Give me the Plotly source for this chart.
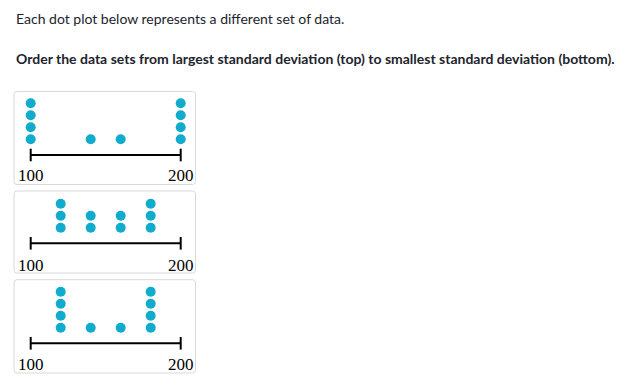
import plotly.graph_objects as go
from collections import Counter

# ---- data ----
set_a = [100, 100, 100, 100, 140, 160, 200, 200, 200, 200]
set_b = [120, 120, 120, 140, 140, 160, 160, 180, 180, 180]
set_c = [120, 120, 120, 120, 140, 160, 180, 180, 180, 180]
datasets = [set_a, set_b, set_c]
axis_min, axis_max = 100, 200
tick_labels = ["100", "200"]
title_line1 = "Each dot plot below represents a different set of data."
title_line2 = "Order the data sets from largest standard deviation (top) to smallest standard deviation (bottom)."

# ---- layout constants (pixels) ----
W, H = 627, 391
PX_PER_UNIT = 1.5
X100_PX = 30.7
STEP = 12.0
# per panel: (level-1 dot centre y, axis line y, label centre y, box top, box bottom)
panels = [
    (139.3, 155.0, 177.0, 91.5, 184.5),
    (227.7, 243.3, 267.0, 191.0, 273.0),
    (327.7, 343.3, 366.0, 279.7, 373.0),
]
BOX_L, BOX_R = 14.0, 195.5
DOT = "#11accd"
TXT = "#21242c"

x0 = axis_min - X100_PX / PX_PER_UNIT
x1 = x0 + W / PX_PER_UNIT

fig = go.Figure()

def px2lvl(b, p):
    return 1 + (b - p) / STEP

for i, (vals, (b, a, lab, bt, bb)) in enumerate(zip(datasets, panels)):
    yname = "y" if i == 0 else f"y{i+1}"
    seen = Counter()
    xs, ys = [], []
    for v in vals:
        seen[v] += 1
        xs.append(v)
        ys.append(seen[v])
    fig.add_trace(go.Scatter(x=xs, y=ys, mode="markers", yaxis=yname,
                             marker=dict(size=10, color=DOT, line=dict(width=0)),
                             showlegend=False, hoverinfo="skip"))
    ya = px2lvl(b, a)
    fig.add_trace(go.Scatter(x=[axis_min, axis_max], y=[ya, ya], mode="lines+markers",
                             yaxis=yname, line=dict(color="black", width=2),
                             marker=dict(symbol="line-ns", size=9,
                                         line=dict(color="black", width=2)),
                             showlegend=False, hoverinfo="skip"))
    yl = px2lvl(b, lab)
    fig.add_trace(go.Scatter(x=[axis_min, axis_max], y=[yl, yl], mode="text",
                             text=tick_labels, yaxis=yname,
                             textfont=dict(family="Liberation Serif", size=17, color="black"),
                             showlegend=False, hoverinfo="skip"))
    rng = [1 + (b - H) / STEP, 1 + b / STEP]
    key = "yaxis" if i == 0 else f"yaxis{i+1}"
    ax = dict(range=rng, visible=False, fixedrange=True, domain=[0, 1])
    if i > 0:
        ax["overlaying"] = "y"
    fig.layout[key] = ax

    # rounded box
    r = 3.0
    def X(p): return p / W
    def Y(p): return 1 - p / H
    path = (f"M {X(BOX_L + r)},{Y(bt)} L {X(BOX_R - r)},{Y(bt)} "
            f"Q {X(BOX_R)},{Y(bt)} {X(BOX_R)},{Y(bt + r)} "
            f"L {X(BOX_R)},{Y(bb - r)} Q {X(BOX_R)},{Y(bb)} {X(BOX_R - r)},{Y(bb)} "
            f"L {X(BOX_L + r)},{Y(bb)} Q {X(BOX_L)},{Y(bb)} {X(BOX_L)},{Y(bb - r)} "
            f"L {X(BOX_L)},{Y(bt + r)} Q {X(BOX_L)},{Y(bt)} {X(BOX_L + r)},{Y(bt)} Z")
    fig.add_shape(type="path", path=path, xref="paper", yref="paper",
                  line=dict(color="#d8d8d8", width=1), fillcolor="rgba(0,0,0,0)",
                  layer="below")

fig.add_annotation(x=14 / W, y=1 - 18 / H, xref="paper", yref="paper",
                   xanchor="left", yanchor="middle", showarrow=False,
                   text=title_line1, font=dict(family="Lato", size=14, color=TXT))
fig.add_annotation(x=14 / W, y=1 - 58.5 / H, xref="paper", yref="paper",
                   xanchor="left", yanchor="middle", showarrow=False,
                   text=f"<b>{title_line2}</b>", font=dict(family="Lato", size=14, color=TXT))

fig.update_layout(
    width=W, height=H, margin=dict(l=0, r=0, t=0, b=0),
    paper_bgcolor="white", plot_bgcolor="white",
    xaxis=dict(range=[x0, x1], visible=False, fixedrange=True, domain=[0, 1]),
    showlegend=False,
)

fig.write_html("out.html", config={"displayModeBar": False},
               post_script="document.body.style.margin='0';")
